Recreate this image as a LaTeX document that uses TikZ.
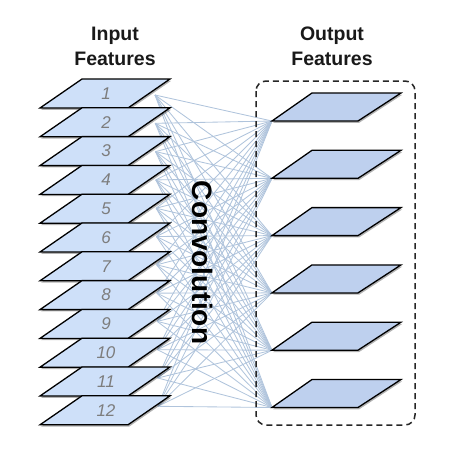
\documentclass[tikz,border=0pt]{standalone}
\usepackage{fontspec}
\setmainfont{Liberation Sans}
\usetikzlibrary{shadows}
\definecolor{infill}{RGB}{206,224,249}
\definecolor{outfill}{RGB}{190,208,238}
\definecolor{conn}{RGB}{176,196,220}
\definecolor{numgray}{RGB}{125,125,125}
\tikzset{
 plane/.style={draw=black, line width=1.3pt, line join=miter, drop shadow={shadow xshift=1.2pt, shadow yshift=-1.8pt, opacity=0.3, fill=black}},
 inplane/.style={plane, fill=infill},
 outplane/.style={plane, fill=outfill},
 connector/.style={draw=conn, line width=0.85pt},
 head/.style={font=\fontsize{19.5}{24}\selectfont\bfseries, text=black!90, inner sep=0pt, anchor=base},
 numlabel/.style={font=\fontsize{17}{17}\selectfont\itshape, text=numgray, inner sep=0pt},
 convlabel/.style={font=\fontsize{28}{28}\selectfont\bfseries, inner sep=0pt, rotate=-90},
 outbox/.style={draw=black!85, line width=1.5pt, dash pattern=on 6pt off 4pt, rounded corners=10pt}
}
\begin{document}
\begin{tikzpicture}[x=1pt,y=-1pt]
\useasboundingbox (0,0) rectangle (449,451);
\foreach \k in {1,...,12}{
  \coordinate (src\k) at ({155+(\k-1)*0.27}, {95+(\k-1)*28.3});
}
\foreach \j in {1,...,6}{
  \coordinate (dst\j) at (272, {121+(\j-1)*57.3});
}
\foreach \k in {1,...,12}{
  \foreach \j in {1,...,6}{
    \draw[connector] (src\k) -- (dst\j);
  }
}
\draw[outbox] (256,81) rectangle (415,425);
\foreach \k in {1,...,12}{
  \pgfmathsetmacro{\t}{79+(\k-1)*28.8}
  \path[inplane] (82,\t) -- (170,\t) -- (128,\t+29) -- (40,\t+29) -- cycle;
  \node[numlabel] (num\k) at (106,\t+14.5) {\k};
}
\foreach \j in {1,...,6}{
  \pgfmathsetmacro{\T}{93+(\j-1)*57.3}
  \path[outplane] (312,\T) -- (401,\T) -- (358,\T+28) -- (272,\T+28) -- cycle;
}
\node[head] (inhead1) at (115,40) {Input};
\node[head] (inhead2) at (115,65.7) {Features};
\node[head] (outhead1) at (332,40) {Output};
\node[head] (outhead2) at (332,65.7) {Features};
\node[convlabel] (conv) at (202.5,262.5) {Convolution};
\end{tikzpicture}
\end{document}
